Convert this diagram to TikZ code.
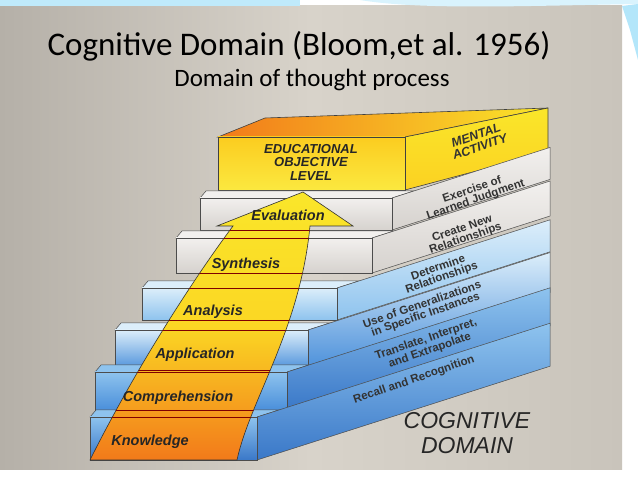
\documentclass[tikz,border=0pt]{standalone}
\usepackage{fontspec}
\setmainfont{Liberation Sans}
\newfontfamily\carl{Carlito}
\definecolor{bgl}{HTML}{B5B0A8}
\definecolor{bgm}{HTML}{D8D3CA}
\definecolor{bgr}{HTML}{C9C4BB}
\definecolor{bl1}{HTML}{DCEEFA}
\definecolor{bl2}{HTML}{8EC3EE}
\definecolor{bl3}{HTML}{4A8FDA}
\definecolor{bl4}{HTML}{3A78C8}
\definecolor{gr1}{HTML}{F2F0EE}
\definecolor{gr2}{HTML}{D6D2CE}
\definecolor{ye}{HTML}{FAE62A}
\definecolor{or}{HTML}{F27A1A}
\begin{document}
\begin{tikzpicture}[x=1pt,y=-1pt,
  lab/.style={font=\bfseries\itshape\fontsize{14.5}{14.5}\selectfont, text=black!85},
  side/.style={font=\bfseries\fontsize{11.5}{10.5}\selectfont, text=black!80, rotate=19, align=center, inner sep=1pt},
  edge/.style={draw=black!75, line width=0.6pt}]
\useasboundingbox (0,0) rectangle (638,478);
\fill[white] (0,0) rectangle (638,478);
\shade[left color=bgl, right color=bgr, middle color=bgm] (0,6) rectangle (622,470);
\fill[cyan!25] (0,0) rectangle (300,6);
\fill[cyan!15] (360,0) .. controls (420,10) and (520,6) .. (638,4) -- (638,0) -- cycle;
\fill[cyan!30] (622,6) -- (638,4) -- (638,60) -- (630,30) -- cycle;
\node[font=\carl\fontsize{33}{33}\selectfont] (title) at (299,46) {Cognitive Domain (Bloom,et al. 1956)};
\node[font=\carl\fontsize{25}{25}\selectfont] (sub) at (312,80) {Domain of thought process};
% top box
\shade[edge, left color=or, right color=ye] (218,137) -- (265,118) -- (548,108) -- (405,137) -- cycle;
\shade[edge, top color=ye, bottom color=ye!80!orange] (405,137) -- (548,108) -- (548,152) -- (405,190) -- cycle;
\shade[edge, top color=ye!75!orange, bottom color=ye!90!white] (218,137) rectangle (405,190);
\node[lab, align=center, font=\bfseries\itshape\fontsize{13}{13.5}\selectfont] (eol) at (311,162) {EDUCATIONAL\\OBJECTIVE\\LEVEL};
\node[side, font=\bfseries\itshape\fontsize{12.5}{12}\selectfont] (ma) at (478,141) {MENTAL\\ACTIVITY};
% steps
\foreach \L/\R/\T/\B/\ct/\cb/\cs in {
  200/392/198/230/gr1/gr2/gr2,
  176/372/238/273/gr1/gr2/gr2,
  142/337/288/320/bl1/bl2/bl2,
  115/308/330/370/bl1/bl3/bl3,
  95/287/372/410/bl2/bl3/bl4,
  90/257/417/460/bl2/bl4/bl4}{
  \pgfmathsetmacro\dy{0.32*(550-\R)}
  \fill[\ct, draw=black!70, line width=0.5pt] (\L,\T) -- (\R,\T) -- (\R+22,\T-7) -- (\L+6,\T-7) -- cycle;
  \shade[draw=black!70, line width=0.5pt, top color=\ct, bottom color=\cs] (\R,\T) -- (550,\T-\dy) -- (550,\B-\dy) -- (\R,\B) -- cycle;
  \shade[draw=black!70, line width=0.5pt, top color=\ct, bottom color=\cb] (\L,\T) rectangle (\R,\B);
}
% arrow
\shade[draw=black!80, line width=0.6pt, top color=ye, bottom color=or, middle color=ye!85!orange]
 (90,460) .. controls (140,360) and (200,270) .. (233,226) -- (217,226) -- (303,192) -- (353,226) -- (310,226)
 .. controls (300,330) and (250,400) .. (237,460) -- cycle;
\begin{scope}
  \clip (90,460) .. controls (140,360) and (200,270) .. (233,226) -- (217,226) -- (303,192) -- (353,226) -- (310,226)
 .. controls (300,330) and (250,400) .. (237,460) -- cycle;
  \foreach \y in {230,238,273,288,320,330,370,372,410,417}{
  \draw[red!50!black, line width=0.5pt] (80,\y) -- (360,\y);}
\end{scope}
\node[lab] (kn) at (150,442) {Knowledge};
\node[lab] (co) at (178,398) {Comprehension};
\node[lab] (ap) at (195,355) {Application};
\node[lab] (an) at (213,312) {Analysis};
\node[lab] (sy) at (246,265) {Synthesis};
\node[lab] (ev) at (288,215) {Evaluation};
\node[side] (s1) at (474,195) {Exercise of\\Learned Judgment};
\node[side] (s2) at (464,234) {Create New\\Relationships};
\node[side] (s3) at (440,273) {Determine\\Relationships};
\node[side] (s4) at (424,310) {Use of Generalizations\\in Specific Instances};
\node[side] (s5) at (428,345) {Translate, Interpret,\\and Extrapolate};
\node[side] (s6) at (414,380) {Recall and Recognition};
\node[font=\itshape\fontsize{23}{25}\selectfont, align=center, text=black!85] (cd) at (467,433) {COGNITIVE\\DOMAIN};
\end{tikzpicture}
\end{document}
